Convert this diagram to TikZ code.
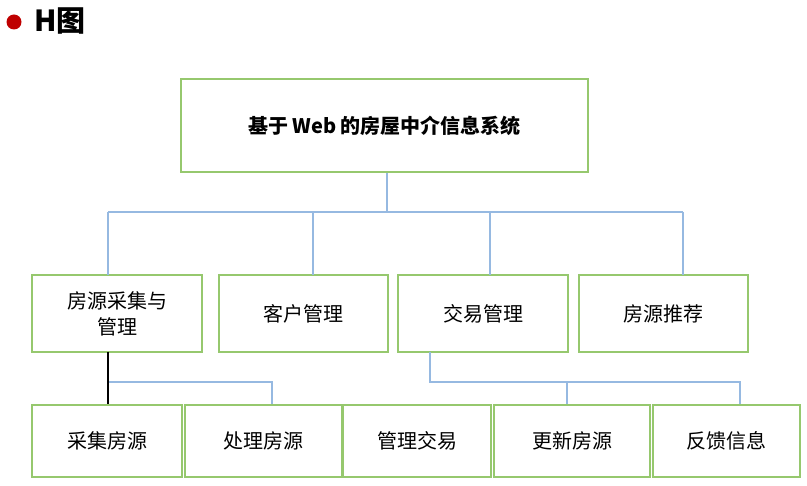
\documentclass[tikz,border=0pt]{standalone}
\usepackage{fontspec}
\setmainfont{Noto Sans CJK SC}
\begin{document}
\begin{tikzpicture}[x=1pt,y=-1pt,
  box/.style={draw=boxgreen,line width=1.2pt,fill=white,inner sep=0pt,font=\fontsize{20}{26}\selectfont,align=center},
  link/.style={draw=linkblue,line width=1.2pt}]
\definecolor{boxgreen}{RGB}{150,200,110}
\definecolor{linkblue}{RGB}{150,185,225}
\useasboundingbox (0,0) rectangle (807,486);
\fill[red!75!black] (14,22) circle (7.5);
\node[anchor=west,font=\bfseries\fontsize{29}{32}\selectfont] (title) at (31,21) {H图};
\node[box,minimum width=407pt,minimum height=93pt,font=\bfseries\fontsize{20}{24}\selectfont] (root) at (384.5,125.5) {基于 Web 的房屋中介信息系统};
\node[box,minimum width=170pt,minimum height=77pt] (a) at (117,313.5) {房源采集与\\管理};
\node[box,minimum width=169pt,minimum height=77pt] (b) at (303.5,313.5) {客户管理};
\node[box,minimum width=170pt,minimum height=77pt] (c) at (483,313.5) {交易管理};
\node[box,minimum width=169pt,minimum height=77pt] (d) at (663.5,313.5) {房源推荐};
\coordinate (j1) at (387,212);
\draw[link] (root.south -| j1) -- (j1);
\draw[link] (108,212) -- (683,212);
\draw[link] (108,212) -- (108,275);
\draw[link] (313,212) -- (313,275);
\draw[link] (490,212) -- (490,275);
\draw[link] (683,212) -- (683,275);
\draw[link] (108,382) -- (272,382) -- (272,405);
\draw[black,line width=1.2pt] (108,352) -- (108,405);
\draw[link] (430,352) -- (430,382) -- (740,382) -- (740,405);
\draw[link] (567,382) -- (567,405);
\node[box,minimum width=150pt,minimum height=72pt] (e) at (107,441) {采集房源};
\node[box,minimum width=157pt,minimum height=72pt] (f) at (263.5,441) {处理房源};
\node[box,minimum width=148pt,minimum height=72pt] (g) at (417,441) {管理交易};
\node[box,minimum width=156pt,minimum height=72pt] (h) at (572,441) {更新房源};
\node[box,minimum width=147pt,minimum height=72pt] (i) at (726.5,441) {反馈信息};
\end{tikzpicture}
\end{document}
